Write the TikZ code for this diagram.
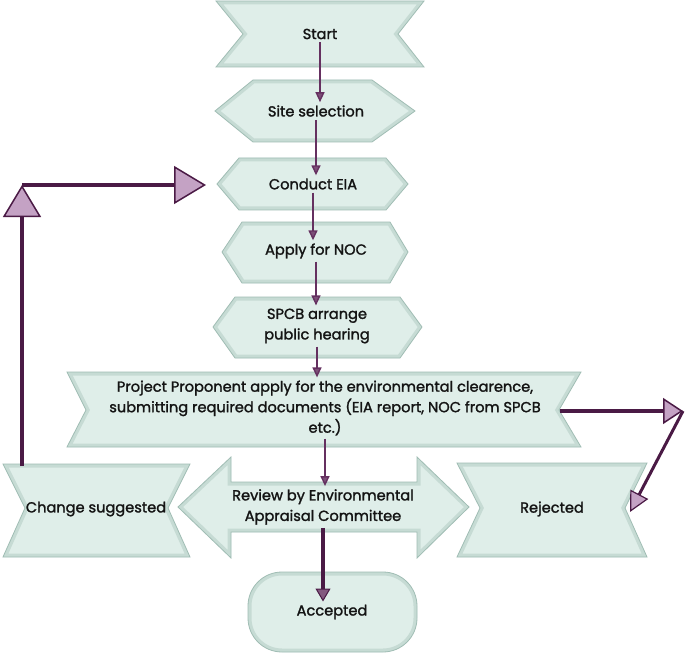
\documentclass[tikz,border=0pt]{standalone}
\usepackage{fontspec}
\setmainfont{Poppins}[FakeBold=1.6]
\usepackage{tikz}
\usetikzlibrary{arrows.meta,calc}
\usepackage{xcolor}
\definecolor{mint}{HTML}{DFEEE9}
\definecolor{mintglow}{HTML}{B3CCC4}
\definecolor{mintedge}{HTML}{A0BDB4}
\definecolor{plum}{HTML}{4A1A45}
\definecolor{plumlight}{HTML}{653060}
\definecolor{lilac}{HTML}{C4A2C4}

% a panel: light fill, soft inner edge, thin outline
\newcommand{\panel}[1]{%
  \begin{scope}
    \clip #1;
    \fill[mint] #1;
    \draw[mintglow, line width=7pt, opacity=0.55] #1;
  \end{scope}
  \draw[mintedge, line width=0.8pt] #1;}

\tikzset{
  txt/.style={font=\fontsize{14.6}{20.5}\selectfont, align=center, text=black!92, inner sep=3pt},
  flow/.style={draw=plumlight, line width=1.4pt, -{Triangle[width=9pt,length=10pt,fill=plumlight!85]}},
  thickflow/.style={draw=plum, line width=4.5pt, -{Triangle[width=15pt,length=13pt,fill=plumlight!80,line width=1pt]}},
  loopflow/.style={draw=plum, line width=4.5pt, -{Triangle[width=38pt,length=32pt,fill=lilac,line width=1.5pt]}},
}

\begin{document}
\begin{tikzpicture}[x=1pt, y=-1pt]
    \useasboundingbox[fill=white] (0,0) rectangle (685,655);

    % shapes
    \panel{(216,1) -- (424,1) -- (398,34) -- (424,67) -- (216,67) -- (243,34) -- cycle}
    \panel{(215,111) -- (253,80) -- (372,80) -- (415,111) -- (372,142) -- (253,142) -- cycle}
    \panel{(217,184) -- (239,158) -- (386,158) -- (408,184) -- (386,210) -- (239,210) -- cycle}
    \panel{(222,252) -- (242,222) -- (390,222) -- (408,252) -- (390,283) -- (242,283) -- cycle}
    \panel{(213,327) -- (235,297) -- (400,297) -- (422,327) -- (400,358) -- (235,358) -- cycle}
    \panel{(67,372) -- (581,372) -- (559,410) -- (581,447) -- (67,447) -- (86,410) -- cycle}
    \panel{(3,464) -- (190,464) -- (168,508) -- (190,557) -- (3,557) -- (25,508) -- cycle}
    \panel{(178,507) -- (231,457) -- (231,482) -- (417,482) -- (417,457) -- (469,507)
           -- (417,558) -- (417,532) -- (231,532) -- (231,558) -- cycle}
    \panel{(457,463) -- (647,463) -- (625,508) -- (647,557) -- (457,557) -- (480,508) -- cycle}
    \panel{[rounded corners=34pt] (248,572) rectangle (417,652)}

    % texts
    \node[txt] (start) at (320,34) {Start};
    \node[txt] (site) at (316,111) {Site selection};
    \node[txt] (eia) at (313,184) {Conduct EIA};
    \node[txt] (noc) at (316,251) {Apply for NOC};
    \node[txt] (spcb) at (317,326) {SPCB arrange\\public hearing};
    \node[txt] (project) at (325,408) {Project Proponent apply for the environmental clearence,\\submitting required documents (EIA report, NOC from SPCB\\etc.)};
    \node[txt] (review) at (323,507) {Review by Environmental\\Appraisal Committee};
    \node[txt] (change) at (96,509) {Change suggested};
    \node[txt] (rejected) at (552,509) {Rejected};
    \node[txt] (accepted) at (332,612) {Accepted};

    \coordinate (changetop) at (22,466);
    \coordinate (bendL) at (22,185);
    \coordinate (eiatip) at (206,185);
    \coordinate (projtip) at (560,411);
    \coordinate (bendR) at (683,411);
    \coordinate (rejtip) at (630,512);

    % main line
    \draw[flow] (start.south) -- (start.south |- site.north);
    \draw[flow] (site.south) -- (site.south |- eia.north);
    \draw[flow] (eia.south) -- (eia.south |- noc.north);
    \draw[flow] (noc.south) -- (noc.south |- spcb.north);
    \draw[flow] (spcb.south) -- (spcb.south |- project.north);
    \draw[flow] (project.south) -- (project.south |- review.north);
    \draw[thickflow] (review.south) -- (review.south |- accepted.north);

    % feedback and rejection
    \draw[loopflow] (bendL) -- (eiatip);
    \draw[loopflow] (changetop) -- (bendL);
    \draw[loopflow, line width=4pt, -{Triangle[width=26pt,length=20pt,fill=lilac,line width=1.5pt]}] (projtip) -- (bendR);
    \draw[loopflow, line width=3pt, -{Triangle[width=20pt,length=20pt,fill=lilac,line width=1.2pt]}] (bendR) -- (rejtip);
  \end{tikzpicture}
\end{document}
